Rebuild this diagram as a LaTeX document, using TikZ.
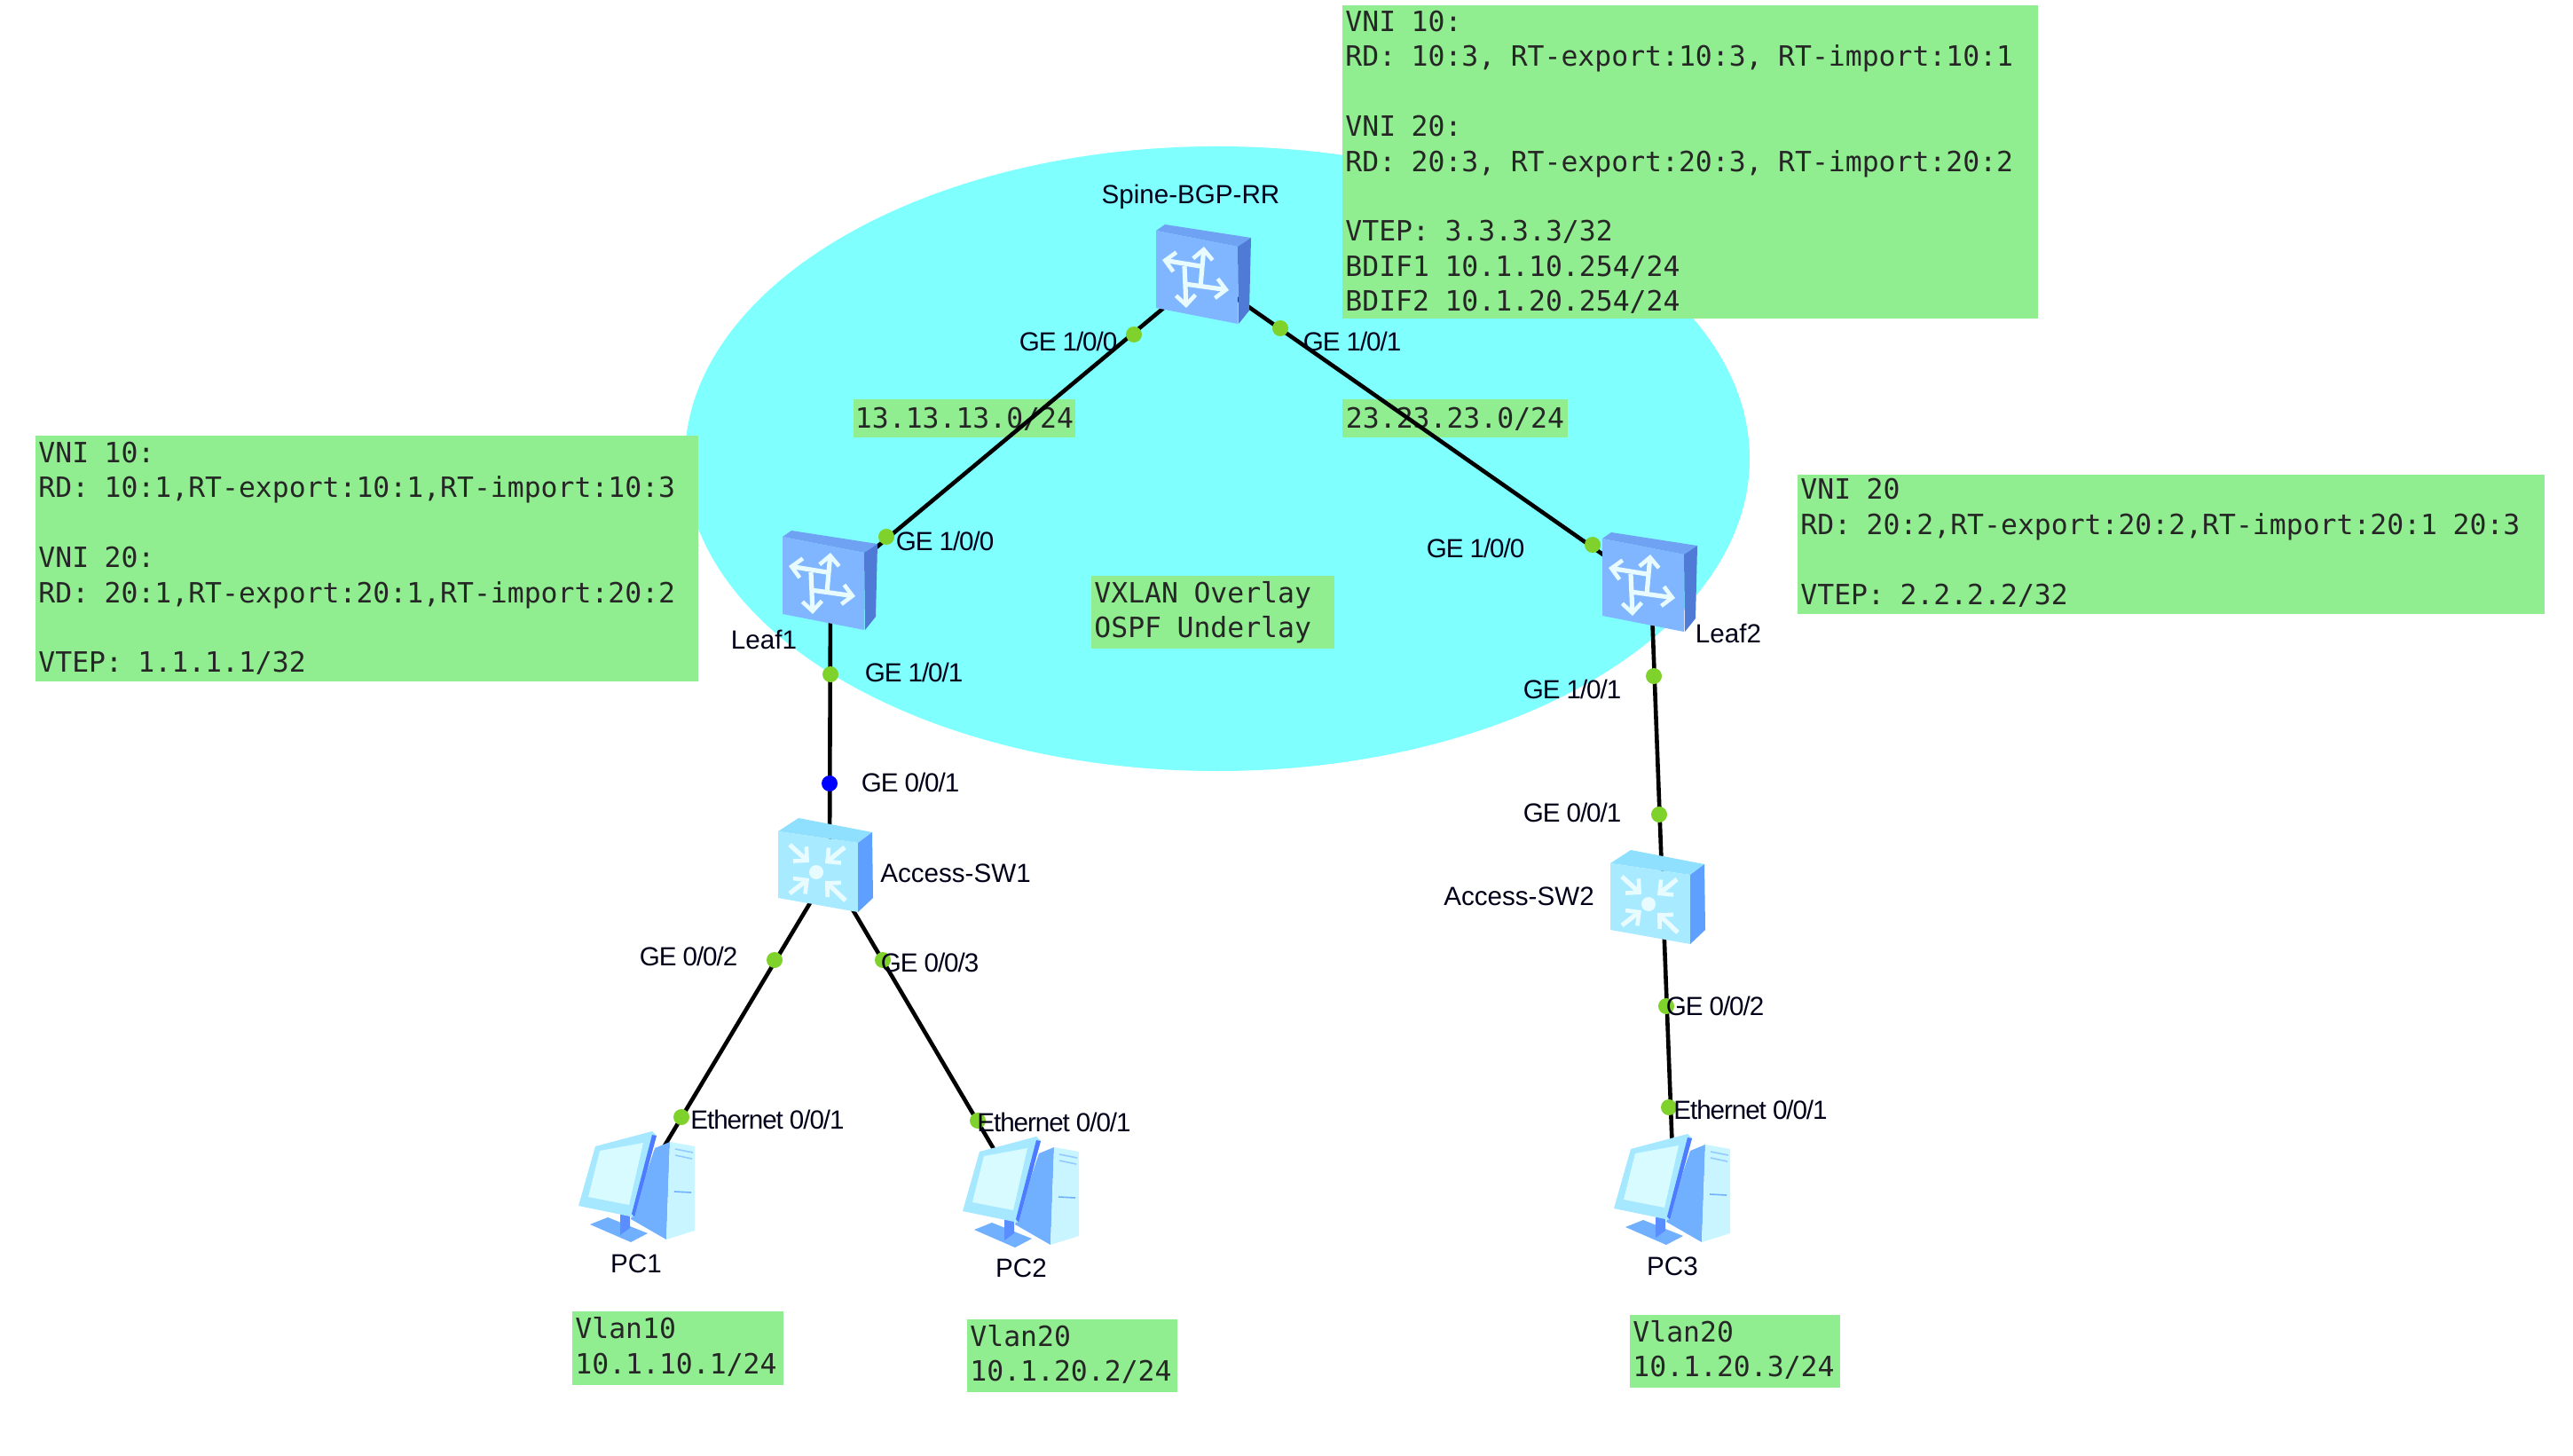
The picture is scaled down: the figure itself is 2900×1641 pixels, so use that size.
\documentclass[tikz,border=0pt]{standalone}
\usepackage{fontspec}
\setmainfont{Liberation Sans}
\setmonofont{DejaVu Sans Mono}
\newfontfamily\portfont[LetterSpace=-3.6]{Liberation Sans}
\usetikzlibrary{arrows.meta}
% the space of the mono face is set short: widen it to one full cell
\newcommand\xs{\hspace{3.5pt}}
% extra depth on a last line, which lifts the text inside its box
\newcommand\lift[1]{\rule[-#1]{0pt}{0pt}}
\definecolor{cloudcyan}{HTML}{80FFFF}
\definecolor{notegreen}{HTML}{90EE90}
\definecolor{portgreen}{HTML}{7FD12B}
\definecolor{rfront}{HTML}{80B6FF}
\definecolor{rtop}{HTML}{6FA2F2}
\definecolor{rside}{HTML}{4F7AD6}
\definecolor{sfront}{HTML}{A8EAFF}
\definecolor{stop}{HTML}{8FE0FF}
\definecolor{sside}{HTML}{5F9FFF}
\definecolor{pcframe}{HTML}{A5E8FF}
\definecolor{pcscreen}{HTML}{D8FBFF}
\definecolor{pcdark}{HTML}{70B0FF}
\definecolor{pcface}{HTML}{C8F5FF}
\definecolor{iconwhite}{HTML}{E8FBFF}
\tikzset{
  x=0.5pt,y=-0.5pt,
  link/.style={draw=black,line width=2.3pt},
  portdot/.style={circle,fill=portgreen,draw=none,minimum size=9pt,inner sep=0pt},
  bluedot/.style={portdot,fill=blue},
  lbl/.style={font=\fontsize{14.8}{17}\selectfont,inner sep=0pt,text=black!90!blue},
  plbl/.style={font=\portfont\fontsize{14.8}{17}\selectfont,inner sep=0pt,text=black!90!blue},
  notebox/.style={fill=notegreen,anchor=north west,inner xsep=1.5pt,inner ysep=0pt,align=left,
    font=\ttfamily\fontsize{15.72}{19.7}\selectfont,text=black!85},
  subnet/.style={fill=notegreen,anchor=center,inner sep=0pt,align=center,
    font=\ttfamily\fontsize{15.72}{19.7}\selectfont,text=black!85},
  whitearrow/.style={draw=iconwhite,line width=2.6pt,-{Straight Barb[length=5.5pt,width=11pt,line width=2.3pt]}},
  routericon/.pic={
    \fill[rtop] (0,0) -- (10,-7) -- (107,8) -- (92,18) -- cycle;
    \fill[rfront] (0,0) -- (92,18) -- (92,105) -- (0,87) -- cycle;
    \fill[rside] (92,18) -- (107,8) -- (105,90) -- (93,105) -- cycle;
    \draw[whitearrow] (50,40) -- (7,33);
    \draw[whitearrow] (50,63) -- (54,18);
    \draw[whitearrow] (32,60) -- (82,67);
    \draw[whitearrow] (32,40) -- (34,87);
  },
  switchicon/.pic={
    \fill[stop] (0,0) -- (23,-15) -- (106,1) -- (90,13) -- cycle;
    \fill[sfront] (0,0) -- (90,13) -- (90,91) -- (0,75) -- cycle;
    \fill[sside] (90,13) -- (106,1) -- (107,75) -- (90,91) -- cycle;
    \fill[iconwhite] (43,46) circle[radius=8];
    \draw[whitearrow] (13,15) -- (35,35);
    \draw[whitearrow] (75,18) -- (53,36);
    \draw[whitearrow] (13,70) -- (35,53);
    \draw[whitearrow] (76,78) -- (53,56);
  },
  pcicon/.pic={
    \fill[pcdark] (13,104) -- (59,124) -- (78,114) -- (33,96) -- cycle;
    \fill[pcdark!80!blue] (47,90) -- (58,90) -- (58,108) -- (47,116) -- cycle;
    \fill[pcdark] (86,18) -- (103,11) -- (99,121) -- (59,98) -- cycle;
    \fill[pcface] (103,11) -- (131,16) -- (131,111) -- (99,121) -- cycle;
    \fill[pcframe] (19,16) -- (83,-1) -- (88,4) -- (63,96) -- (0,83) -- cycle;
    \fill[pcscreen] (24,21) -- (73,12) -- (57,82) -- (11,73) -- cycle;
    \fill[pcdark!70!blue] (83,3) -- (88,4) -- (63,96) -- (60,92) -- cycle;
    \draw[pcdark!60!pcface,line width=0.8pt] (109,19) -- (129,23) (109,26) -- (128,30);
    \draw[pcdark,line width=0.8pt] (108,67) -- (127,68);
  }
}
\begin{document}
\begin{tikzpicture}
\useasboundingbox (0,0) rectangle (2900,1641);
% overlay cloud
\fill[cloudcyan] (1372,517) ellipse[x radius=600,y radius=352];

% notes that sit under the links
\node[subnet,minimum width=125pt,minimum height=21.5pt] (netA) at (1087,472) {13.13.13.0/24};
\node[subnet,minimum width=127pt,minimum height=21.5pt] (netB) at (1640,472) {23.23.23.0/24};
\node[notebox,text width=134pt,minimum height=41pt] (overlay) at (1230,649) {VXLAN \xs Overlay\\OSPF \xs Underlay};

% device anchors
\coordinate (spine) at (1356,310);
\coordinate (leaf1) at (936,660);
\coordinate (leaf2) at (1861,663);
\coordinate (sw1) at (935,981);
\coordinate (sw2) at (1874,1010);
\coordinate (pc1) at (745,1298);
\coordinate (pc2) at (1123,1300);
\coordinate (pc3) at (1885,1300);

% links
\draw[link] (spine) -- (leaf1);
\draw[link] (spine) -- (leaf2);
\draw[link] (leaf1) -- (sw1);
\draw[link] (leaf2) -- (sw2);
\draw[link] (sw1) -- (pc1);
\draw[link] (sw1) -- (pc2);
\draw[link] (sw2) -- (pc3);

% devices
\pic at (1303,260) {routericon};
\pic at (882,605) {routericon};
\pic at (1806,607) {routericon};
\pic at (877,937) {switchicon};
\pic at (1815,973) {switchicon};
\pic at (652,1276) {pcicon};
\pic at (1085,1282) {pcicon};
\pic at (1819,1279) {pcicon};

% port dots
\node[portdot] (p1) at (1278,377) {};
\node[portdot] (p2) at (999,605) {};
\node[portdot] (p3) at (1443,370) {};
\node[portdot] (p4) at (1795,614) {};
\node[portdot] (p5) at (936,760) {};
\node[bluedot] (p6) at (935,883) {};
\node[portdot] (p7) at (873,1082) {};
\node[portdot] (p8) at (995,1082) {};
\node[portdot] (p9) at (768,1259) {};
\node[portdot] (p10) at (1102,1263) {};
\node[portdot] (p11) at (1864,762) {};
\node[portdot] (p12) at (1870,918) {};
\node[portdot] (p13) at (1878,1134) {};
\node[portdot] (p14) at (1881,1248) {};

% green notes
\node[notebox,text width=370.5pt,minimum height=138.5pt] (noteL) at (40,491)
 {VNI \xs 10:\\RD: \xs 10:1,RT-export:10:1,RT-import:10:3\\[19.7pt]VNI \xs 20:\\RD: \xs 20:1,RT-export:20:1,RT-import:20:2\\[19.7pt]VTEP: \xs 1.1.1.1/32\lift{1.85pt}};
\node[notebox,text width=389pt,minimum height=176.5pt] (noteS) at (1513,6)
 {VNI \xs 10:\\RD: \xs 10:3, \xs RT-export:10:3, \xs RT-import:10:1\\[19.7pt]VNI \xs 20:\\RD: \xs 20:3, \xs RT-export:20:3, \xs RT-import:20:2\\[19.7pt]VTEP: \xs 3.3.3.3/32\\BDIF1 \xs 10.1.10.254/24\\BDIF2 \xs 10.1.20.254/24\lift{1pt}};
\node[notebox,text width=418pt,minimum height=78.5pt] (noteR) at (2026,535)
 {VNI \xs 20\\RD: \xs 20:2,RT-export:20:2,RT-import:20:1 \xs 20:3\\[19.7pt]VTEP: \xs 2.2.2.2/32\lift{3.5pt}};
\node[notebox,text width=116pt,minimum height=41.5pt] (vl1) at (645,1478) {Vlan10\\10.1.10.1/24\lift{3.5pt}};
\node[notebox,text width=115.5pt,minimum height=41pt] (vl2) at (1090,1487) {Vlan20\\10.1.20.2/24\lift{3.5pt}};
\node[notebox,text width=115.5pt,minimum height=41pt] (vl3) at (1837,1482) {Vlan20\\10.1.20.3/24\lift{3.5pt}};

% labels
\node[lbl] (tSpine) at (1342,222) {Spine-BGP-RR};
\node[lbl] (tLeaf1) at (861,721) {Leaf1};
\node[lbl] (tLeaf2) at (1948,714) {Leaf2};
\node[lbl] (tSw1) at (1077,984) {Access-SW1};
\node[lbl] (tSw2) at (1712,1010) {Access-SW2};
\node[lbl] (tPc1) at (717,1424) {PC1};
\node[lbl] (tPc2) at (1151,1429) {PC2};
\node[lbl] (tPc3) at (1885,1427) {PC3};
\node[plbl] (l1) at (1204,385) {GE 1/0/0};
\node[plbl] (l2) at (1524,385) {GE 1/0/1};
\node[plbl] (l3) at (1065,610) {GE 1/0/0};
\node[plbl] (l4) at (1663,618) {GE 1/0/0};
\node[plbl] (l5) at (1030,758) {GE 1/0/1};
\node[plbl] (l6) at (1026,882) {GE 0/0/1};
\node[plbl] (l7) at (776,1078) {GE 0/0/2};
\node[plbl] (l8) at (1048,1085) {GE 0/0/3};
\node[plbl] (l9) at (865,1262) {Ethernet 0/0/1};
\node[plbl] (l10) at (1188,1265) {Ethernet 0/0/1};
\node[plbl] (l11) at (1772,777) {GE 1/0/1};
\node[plbl] (l12) at (1772,916) {GE 0/0/1};
\node[plbl] (l13) at (1933,1134) {GE 0/0/2};
\node[plbl] (l14) at (1973,1251) {Ethernet 0/0/1};
\end{tikzpicture}
\end{document}
